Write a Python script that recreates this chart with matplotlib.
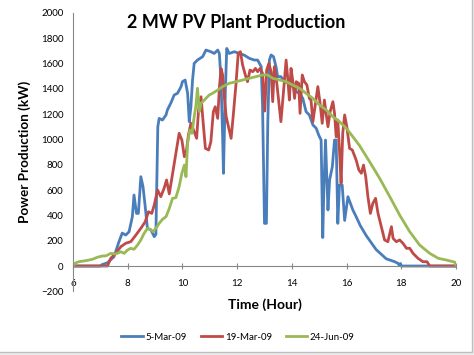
import matplotlib
matplotlib.use('Agg')
import matplotlib.pyplot as plt
from matplotlib.patches import Rectangle

plt.rcParams['font.family'] = ['Lato', 'DejaVu Sans']

# 5-Mar-09
mar5_t = [6.0, 6.5, 7.0, 7.05, 7.26, 7.5, 7.68, 7.8, 7.93, 8.05, 8.17, 8.23, 8.32, 8.39, 8.48,
          8.56, 8.64, 8.72, 8.85, 8.97, 9.03, 9.1, 9.15, 9.27, 9.4, 9.45, 9.58, 9.7, 9.82, 9.95,
          10.0, 10.1, 10.19, 10.25, 10.31, 10.37, 10.43, 10.55, 10.74, 10.86, 11.04, 11.16, 11.29,
          11.35, 11.41, 11.47, 11.5, 11.57, 11.62, 11.71, 11.9, 12.08, 12.26, 12.45, 12.63, 12.75,
          12.88, 12.93, 13.0, 13.07, 13.12, 13.18, 13.24, 13.33, 13.42, 13.48, 13.6, 13.73, 13.91,
          14.03, 14.16, 14.28, 14.4, 14.52, 14.64, 14.77, 14.89, 14.98, 15.07, 15.13, 15.17, 15.23,
          15.32, 15.38, 15.48, 15.56, 15.62, 15.68, 15.74, 15.84, 15.93, 16.05, 16.23, 16.35, 16.5,
          16.72, 17.08, 17.45, 17.76, 17.88, 17.93, 17.97, 18.0, 20.0]
mar5_kw = [0, 0, 0, 10, 26, 74, 192, 260, 245, 271, 390, 561, 416, 416, 706,
           627, 469, 298, 285, 232, 250, 1100, 1167, 1154, 1194, 1233, 1290, 1352, 1365, 1418,
           1457, 1470, 1365, 1141, 1259, 1470, 1602, 1628, 1655, 1707, 1694, 1680, 1707,
           1680, 1470, 1022, 733, 1391, 1720, 1680, 1694, 1680, 1667, 1641, 1628, 1628,
           1576, 1259, 337, 337, 1128, 1628, 1668, 1655, 1576, 1497, 1497, 1457, 1444,
           1418, 1378, 1365, 1325, 1220, 1194, 1115, 1089, 1036, 996, 225, 601, 996,
           443, 680, 785, 996, 996, 337, 640, 640, 360, 548, 443, 390, 320,
           240, 130, 57, 34, 21, 5, 20, 0, 0]

# 19-Mar-09
mar19_t = [6.0, 7.26, 7.38, 7.56, 7.75, 7.93, 8.11, 8.3, 8.48, 8.64, 8.76, 8.88, 8.97, 9.09, 9.21,
           9.33, 9.42, 9.52, 9.64, 9.76, 9.88, 9.98, 10.07, 10.15, 10.22, 10.31, 10.43, 10.52,
           10.59, 10.68, 10.76, 10.84, 10.96, 11.04, 11.13, 11.2, 11.29, 11.35, 11.41, 11.47,
           11.53, 11.6, 11.71, 11.78, 11.86, 11.96, 12.04, 12.12, 12.2, 12.3, 12.38, 12.47,
           12.57, 12.67, 12.75, 12.84, 12.93, 13.01, 13.08, 13.16, 13.24, 13.3, 13.36, 13.45,
           13.52, 13.6, 13.69, 13.79, 13.85, 13.91, 13.97, 14.03, 14.1, 14.16, 14.25, 14.3,
           14.38, 14.46, 14.55, 14.64, 14.7, 14.77, 14.83, 14.89, 14.95, 15.04, 15.11, 15.19,
           15.26, 15.32, 15.4, 15.5, 15.56, 15.62, 15.68, 15.74, 15.8, 15.86, 15.93, 16.01,
           16.11, 16.21, 16.35, 16.45, 16.54, 16.62, 16.7, 16.78, 16.87, 16.96, 17.06, 17.15,
           17.27, 17.39, 17.51, 17.64, 17.7, 17.82, 17.94, 18.06, 18.19, 18.31, 18.43, 18.61,
           18.79, 18.94, 19.04, 20.0]
mar19_kw = [0, 0, 61, 100, 153, 180, 192, 245, 298, 350, 429, 416, 482, 601, 548,
            614, 680, 570, 730, 891, 1049, 996, 864, 917, 1036, 1128, 1062, 1009,
            1233, 1338, 1128, 930, 917, 983, 1220, 1259, 1167, 1405, 1562, 1510,
            1338, 1180, 1075, 1009, 1194, 1444, 1681, 1694, 1589, 1510, 1457, 1549,
            1536, 1562, 1536, 1562, 1523, 1225, 1549, 1602, 1536, 1299, 1576, 1444,
            1299, 1141, 1365, 1628, 1484, 1312, 1562, 1470, 1325, 1457, 1444, 1207,
            1510, 1457, 1431, 1325, 1312, 1141, 1233, 1325, 1418, 1273, 1128, 1312,
            1194, 1101, 1220, 1299, 1207, 1022, 1154, 917, 654, 1049, 1194, 1101,
            930, 917, 838, 759, 733, 798, 706, 548, 416, 495, 535, 416,
            311, 206, 192, 311, 219, 192, 206, 180, 140, 140, 100, 61,
            34, 34, 0, 0]

# 24-Jun-09
jun24_t = [6.0, 6.1, 6.22, 6.46, 6.71, 6.89, 7.07, 7.2, 7.38, 7.56, 7.75, 7.87, 7.99, 8.11, 8.23,
           8.36, 8.48, 8.6, 8.72, 8.85, 8.93, 9.03, 9.15, 9.27, 9.4, 9.52, 9.64, 9.76, 9.88,
           9.98, 10.07, 10.13, 10.19, 10.27, 10.35, 10.43, 10.49, 10.55, 10.62, 10.68, 10.74,
           10.86, 10.98, 11.1, 11.29, 11.47, 11.71, 11.96, 12.2, 12.45, 12.69, 12.93, 13.12,
           13.3, 13.55, 13.79, 14.03, 14.28, 14.52, 14.77, 15.01, 15.26, 15.5, 15.74, 15.99,
           16.23, 16.48, 16.84, 17.21, 17.58, 17.94, 18.31, 18.67, 19.04, 19.35, 19.65, 19.89,
           19.96, 20.0]
jun24_kw = [0, 25, 34, 42, 53, 69, 79, 80, 100, 95, 113, 100, 126, 140, 132,
            166, 206, 258, 298, 285, 271, 298, 337, 369, 390, 455, 535, 540, 627,
            733, 798, 706, 970, 1075, 1049, 1180, 1259, 1405, 1220, 1286, 1299,
            1325, 1352, 1365, 1391, 1418, 1444, 1457, 1470, 1484, 1497, 1510, 1510,
            1484, 1470, 1457, 1431, 1405, 1365, 1325, 1273, 1233, 1180, 1141, 1089,
            1022, 950, 825, 693, 548, 403, 271, 166, 100, 61, 47, 34,
            30, 5]

fig = plt.figure(figsize=(4.74, 3.55), dpi=100, facecolor='#ECECEC')
fig.patches.append(Rectangle((-0.01, 0.0085), 0.9957 + 0.01, 1.0, transform=fig.transFigure,
                             facecolor='white', edgecolor='#BFBFBF', linewidth=1.0, zorder=-10))

ax = fig.add_axes([0.154, 0.1794, 0.808, 0.784])
ax.set_facecolor('none')

ax.plot(mar5_t, mar5_kw, color='#4A7EBB', lw=2.0, label='5-Mar-09')
ax.plot(mar19_t, mar19_kw, color='#BE4B48', lw=2.0, label='19-Mar-09')
ax.plot(jun24_t, jun24_kw, color='#98B954', lw=2.0, label='24-Jun-09')

ax.set_xlim(6, 20)
ax.set_ylim(-200, 2000)
ax.set_xticks(range(6, 21, 2))
ax.set_yticks(range(-200, 2001, 200))

ax.spines['top'].set_visible(False)
ax.spines['right'].set_visible(False)
ax.spines['bottom'].set_position(('data', 0))
ax.spines['bottom'].set_color('#888888')
ax.spines['left'].set_color('#888888')
ax.tick_params(axis='x', direction='inout', length=4, color='#888888', labelsize=7, pad=7)
ax.tick_params(axis='y', length=0, labelsize=7, pad=7)

fig.text(236.5 / 474, 1 - 22 / 355, '2 MW PV Plant Production', ha='center', va='center',
         fontsize=13, fontweight='bold')
fig.text(25 / 474, 1 - 152 / 355, 'Power Production (kW)', ha='center', va='center',
         rotation=90, fontsize=9.7, fontweight='bold')
fig.text(265 / 474, 1 - 305 / 355, 'Time (Hour)', ha='center', va='center',
         fontsize=10, fontweight='bold')

fig.legend(loc='center', bbox_to_anchor=(238 / 474, 1 - 337 / 355), ncol=3, frameon=False,
           fontsize=7, handlelength=2.2, handletextpad=0.3, columnspacing=1.4)

fig.savefig('out.png', dpi=100, facecolor=fig.get_facecolor())
